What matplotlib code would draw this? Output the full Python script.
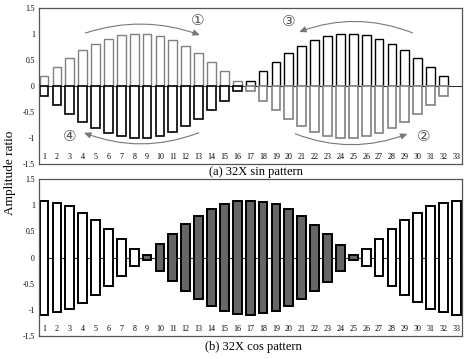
import matplotlib
matplotlib.use("Agg")
import matplotlib.pyplot as plt
from matplotlib.patches import FancyArrowPatch

plt.rcParams['font.family'] = ['Liberation Serif', 'DejaVu Sans']

positions = list(range(1, 34))
tick_labels = [str(p) for p in positions]

# (a) sin pattern amplitudes, position 33 has no bar
sin_amp = [0.19, 0.37, 0.54, 0.69, 0.81, 0.91, 0.97, 1.0, 0.99, 0.96, 0.88,
           0.76, 0.63, 0.46, 0.28, 0.10, 0.10, 0.28, 0.46, 0.63, 0.76, 0.88,
           0.96, 0.99, 1.0, 0.97, 0.91, 0.81, 0.69, 0.54, 0.37, 0.19, 0.0]

# (b) cos pattern amplitudes
cos_amp = [1.09, 1.05, 0.98, 0.86, 0.72, 0.55, 0.36, 0.16, 0.05, 0.26, 0.45,
           0.64, 0.80, 0.93, 1.02, 1.08, 1.09, 1.06, 1.02, 0.92, 0.79, 0.63,
           0.46, 0.25, 0.045, 0.16, 0.35, 0.54, 0.72, 0.85, 0.98, 1.04, 1.09]
cos_dark = [False] * 8 + [True] * 17 + [False] * 8

yticks = [-1.5, -1, -0.5, 0, 0.5, 1, 1.5]
ytick_labels = ['-1.5', '-1', '-0.5', '0', '0.5', '1', '1.5']

fig = plt.figure(figsize=(4.74, 3.59), dpi=100)
ax1 = fig.add_axes([0.082, 0.543, 0.893, 0.435])
ax2 = fig.add_axes([0.082, 0.064, 0.893, 0.437])

w = 0.68
grey = '#808080'


def style_axes(ax):
    ax.set_xlim(0.6, 33.45)
    ax.set_ylim(-1.5, 1.5)
    ax.set_yticks(yticks)
    ax.set_yticklabels(ytick_labels, fontsize=5.5)
    ax.set_xticks([])
    ax.tick_params(axis='y', length=0, pad=3)
    for s in ax.spines.values():
        s.set_color('#555555')
        s.set_linewidth(0.9)
    ax.axhline(0, color='#333333', lw=0.8, zorder=1)
    for p, lab in zip(positions, tick_labels):
        ax.text(p, -1.36, lab, ha='center', va='center', fontsize=5.8)


# top panel
style_axes(ax1)
upper_col = [grey if p <= 16 else 'black' for p in positions]
lower_col = ['black' if p <= 16 else grey for p in positions]
for p, a, cu, cl in zip(positions, sin_amp, upper_col, lower_col):
    if a <= 0:
        continue
    ax1.bar(p, a, width=w, bottom=0, facecolor='white', edgecolor=cu, lw=1.0, zorder=2)
    ax1.bar(p, -a, width=w, bottom=0, facecolor='white', edgecolor=cl, lw=1.2, zorder=2)


def arc(ax, start, end, rad):
    a = FancyArrowPatch(start, end, connectionstyle=f'arc3,rad={rad}',
                        arrowstyle='-|>,head_length=4,head_width=1.8',
                        color='#777777', lw=0.8, mutation_scale=1, zorder=3)
    ax.add_patch(a)


arc(ax1, (4.0, 1.0), (13.3, 0.96), -0.18)
arc(ax1, (13.2, -0.88), (3.9, -0.88), -0.2)
arc(ax1, (29.8, 1.0), (20.6, 1.02), 0.2)
arc(ax1, (20.3, -0.9), (29.4, -0.9), 0.2)

marks = ['\u2460', '\u2461', '\u2462', '\u2463']
mark_pos = [(12.9, 1.25), (30.5, -0.98), (20.0, 1.23), (3.0, -0.98)]
for m, (x, y) in zip(marks, mark_pos):
    ax1.text(x, y, m, ha='center', va='center', fontsize=11, color='#555555',
             family=['DejaVu Sans'])

# bottom panel
style_axes(ax2)
for p, a, d in zip(positions, cos_amp, cos_dark):
    fc = '#666666' if d else 'white'
    ax2.bar(p, 2 * a, width=w, bottom=-a, facecolor=fc, edgecolor='black', lw=1.4, zorder=2)

fig.text(0.54, 0.521, '(a) 32X sin pattern', ha='center', va='center', fontsize=9)
fig.text(0.535, 0.034, '(b) 32X cos pattern', ha='center', va='center', fontsize=9)
fig.text(0.022, 0.52, 'Amplitude ratio', rotation=90, ha='center', va='center', fontsize=9.5)

fig.savefig('out.png', dpi=100)
